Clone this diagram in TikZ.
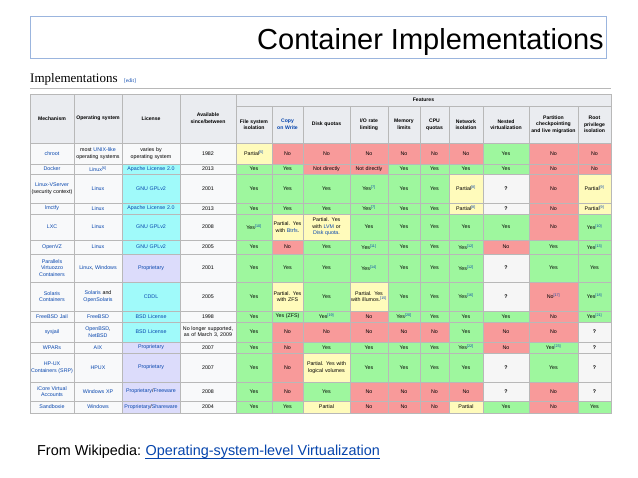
\documentclass[tikz,border=0pt]{standalone}
\usepackage{fontspec}
\setmainfont{Liberation Sans}
\newfontfamily\serifw{Liberation Serif}
\hyphenpenalty=10000 \exhyphenpenalty=10000
\definecolor{lk}{HTML}{0645AD}
\definecolor{Y}{HTML}{9EF79E}
\definecolor{N}{HTML}{F89A9A}
\definecolor{P}{HTML}{FFFBBB}
\definecolor{Q}{HTML}{F6F6F6}
\definecolor{L}{HTML}{F8F9FA}
\definecolor{F}{HTML}{A0FAFA}
\definecolor{R}{HTML}{DCDCFB}
\definecolor{H}{HTML}{EAECF0}
\definecolor{bord}{HTML}{B8B8B8}
\newcommand\lk[1]{{\color{lk}#1}}
\newcommand\rf[1]{{\color{lk}\textsuperscript{[#1]}}}
\def\colx#1{\ifcase#1 30\or 74\or 122\or 180\or 236\or 272\or 303\or 350\or 388\or 420\or 449\or 483\or 529\or 578\or 611\fi}
\newcommand\cel[6]{%
 \pgfmathsetmacro\xa{\colx{#1}}\pgfmathsetmacro\xb{\colx{#2}}\pgfmathsetmacro\ww{\xb-\xa-2}%
 \filldraw[fill=#5,draw=bord,line width=0.4pt] (\xa,#3) rectangle (\xb,#4);
 \node[txt,text width=\ww pt] at ({(\xa+\xb)/2},{(#3+#4)/2}) {#6};}
\newcommand\rw[2]{\def\ya{#1}\def\yb{#2}}
\newcommand\cc[3]{\pgfmathtruncatemacro\cn{#1+1}\cel{#1}{\cn}{\ya}{\yb}{#2}{#3}}
\tikzset{txt/.style={align=center,inner sep=0pt,font=\fontsize{5.3}{6.4}\selectfont}}
\begin{document}
\begin{tikzpicture}[x=1pt,y=-1pt]
\useasboundingbox (0,0) rectangle (638,478);
\fill[white] (0,0) rectangle (638,478);
\draw[color=lk!40,line width=0.5pt] (30,16) rectangle (606,58);
\node[anchor=base east,inner sep=0pt,font=\fontsize{29}{30}\selectfont] (title) at (604,50) {Container Implementations};
\node[anchor=base west,inner sep=0pt,font=\serifw\fontsize{13}{14}\selectfont] (impl) at (30,83) {Implementations\ \ {\fontsize{5.5}{6}\selectfont\color{lk}[edit]}};
\draw[bord,line width=0.4pt] (30,88) -- (611,88);
% header
\rw{94}{143}
\tikzset{txt/.style={align=center,inner sep=0pt,font=\fontsize{5.1}{6.6}\selectfont\bfseries}}
\cc{0}{H}{Mechanism}\cc{1}{H}{Operating system}\cc{2}{H}{License}\cc{3}{H}{Available since/between}
\cel{4}{14}{94}{106}{H}{Features}
\rw{106}{143}
\cc{4}{H}{File system isolation}\cc{5}{H}{\lk{Copy on Write}}\cc{6}{H}{Disk quotas}\cc{7}{H}{I/O rate limiting}
\cc{8}{H}{Memory limits}\cc{9}{H}{CPU quotas}\cc{10}{H}{Network isolation}\cc{11}{H}{Nested virtualization}
\cc{12}{H}{Partition checkpointing and live migration}\cc{13}{H}{Root privilege isolation}
\tikzset{txt/.style={align=center,inner sep=0pt,font=\fontsize{5.3}{6.6}\selectfont}}
% rows
\rw{143}{164}
\cc{0}{L}{\lk{chroot}}\cc{1}{L}{most \lk{UNIX-like} operating systems}\cc{2}{L}{varies by operating system}\cc{3}{L}{1982}
\cc{4}{P}{Partial\rf{5}}\cc{5}{N}{No}\cc{6}{N}{No}\cc{7}{N}{No}\cc{8}{N}{No}\cc{9}{N}{No}\cc{10}{N}{No}\cc{11}{Y}{Yes}\cc{12}{N}{No}\cc{13}{N}{No}
\rw{164}{174}
\cc{0}{L}{\lk{Docker}}\cc{1}{L}{\lk{Linux}\rf{6}}\cc{2}{F}{\lk{Apache License 2.0}}\cc{3}{L}{2013}
\cc{4}{Y}{Yes}\cc{5}{Y}{Yes}\cc{6}{N}{Not directly}\cc{7}{N}{Not directly}\cc{8}{Y}{Yes}\cc{9}{Y}{Yes}\cc{10}{Y}{Yes}\cc{11}{Y}{Yes}\cc{12}{N}{No}\cc{13}{N}{No}
\rw{174}{203}
\cc{0}{L}{\lk{Linux-VServer} (security context)}\cc{1}{L}{\lk{Linux}}\cc{2}{F}{\lk{GNU GPLv2}}\cc{3}{L}{2001}
\cc{4}{Y}{Yes}\cc{5}{Y}{Yes}\cc{6}{Y}{Yes}\cc{7}{Y}{Yes\rf{7}}\cc{8}{Y}{Yes}\cc{9}{Y}{Yes}\cc{10}{P}{Partial\rf{8}}\cc{11}{Q}{\textbf{?}}\cc{12}{N}{No}\cc{13}{P}{Partial\rf{9}}
\rw{203}{214}
\cc{0}{L}{\lk{lmctfy}}\cc{1}{L}{\lk{Linux}}\cc{2}{F}{\lk{Apache License 2.0}}\cc{3}{L}{2013}
\cc{4}{Y}{Yes}\cc{5}{Y}{Yes}\cc{6}{Y}{Yes}\cc{7}{Y}{Yes\rf{7}}\cc{8}{Y}{Yes}\cc{9}{Y}{Yes}\cc{10}{P}{Partial\rf{8}}\cc{11}{Q}{\textbf{?}}\cc{12}{N}{No}\cc{13}{P}{Partial\rf{9}}
\rw{214}{240}
\cc{0}{L}{\lk{LXC}}\cc{1}{L}{\lk{Linux}}\cc{2}{F}{\lk{GNU GPLv2}}\cc{3}{L}{2008}
\cc{4}{Y}{Yes\rf{10}}\cc{5}{P}{Partial. Yes with \lk{Btrfs}.}\cc{6}{P}{Partial. Yes with \lk{LVM} or \lk{Disk quota}.}\cc{7}{Y}{Yes}\cc{8}{Y}{Yes}\cc{9}{Y}{Yes}\cc{10}{Y}{Yes}\cc{11}{Y}{Yes}\cc{12}{N}{No}\cc{13}{Y}{Yes\rf{10}}
\rw{240}{254}
\cc{0}{L}{\lk{OpenVZ}}\cc{1}{L}{\lk{Linux}}\cc{2}{F}{\lk{GNU GPLv2}}\cc{3}{L}{2005}
\cc{4}{Y}{Yes}\cc{5}{N}{No}\cc{6}{Y}{Yes}\cc{7}{Y}{Yes\rf{11}}\cc{8}{Y}{Yes}\cc{9}{Y}{Yes}\cc{10}{Y}{Yes\rf{12}}\cc{11}{N}{No}\cc{12}{Y}{Yes}\cc{13}{Y}{Yes\rf{13}}
\rw{254}{282}
\cc{0}{L}{\lk{Parallels Virtuozzo Containers}}\cc{1}{L}{\lk{Linux}, \lk{Windows}}\cc{2}{R}{\lk{Proprietary}}\cc{3}{L}{2001}
\cc{4}{Y}{Yes}\cc{5}{Y}{Yes}\cc{6}{Y}{Yes}\cc{7}{Y}{Yes\rf{14}}\cc{8}{Y}{Yes}\cc{9}{Y}{Yes}\cc{10}{Y}{Yes\rf{12}}\cc{11}{Q}{\textbf{?}}\cc{12}{Y}{Yes}\cc{13}{Y}{Yes}
\rw{282}{311}
\cc{0}{L}{\lk{Solaris Containers}}\cc{1}{L}{\lk{Solaris} and \lk{OpenSolaris}}\cc{2}{F}{\lk{CDDL}}\cc{3}{L}{2005}
\cc{4}{Y}{Yes}\cc{5}{P}{Partial. Yes with ZFS}\cc{6}{Y}{Yes}\cc{7}{P}{Partial. Yes with illumos.\rf{15}}\cc{8}{Y}{Yes}\cc{9}{Y}{Yes}\cc{10}{Y}{Yes\rf{16}}\cc{11}{Q}{\textbf{?}}\cc{12}{N}{No\rf{17}}\cc{13}{Y}{Yes\rf{18}}
\rw{311}{322}
\cc{0}{L}{\lk{FreeBSD Jail}}\cc{1}{L}{\lk{FreeBSD}}\cc{2}{F}{\lk{BSD License}}\cc{3}{L}{1998}
\cc{4}{Y}{Yes}\cc{5}{Y}{Yes (ZFS)}\cc{6}{Y}{Yes\rf{19}}\cc{7}{N}{No}\cc{8}{Y}{Yes\rf{20}}\cc{9}{Y}{Yes}\cc{10}{Y}{Yes}\cc{11}{Y}{Yes}\cc{12}{N}{No}\cc{13}{Y}{Yes\rf{21}}
\rw{322}{342}
\cc{0}{L}{\lk{sysjail}}\cc{1}{L}{\lk{OpenBSD}, \lk{NetBSD}}\cc{2}{F}{\lk{BSD License}}\cc{3}{L}{No longer supported, as of March 3, 2009}
\cc{4}{Y}{Yes}\cc{5}{N}{No}\cc{6}{N}{No}\cc{7}{N}{No}\cc{8}{N}{No}\cc{9}{N}{No}\cc{10}{Y}{Yes}\cc{11}{N}{No}\cc{12}{N}{No}\cc{13}{Q}{\textbf{?}}
\rw{342}{353}
\cc{0}{L}{\lk{WPARs}}\cc{1}{L}{\lk{AIX}}\cc{2}{R}{\lk{Proprietary}}\cc{3}{L}{2007}
\cc{4}{Y}{Yes}\cc{5}{N}{No}\cc{6}{Y}{Yes}\cc{7}{Y}{Yes}\cc{8}{Y}{Yes}\cc{9}{Y}{Yes}\cc{10}{Y}{Yes\rf{22}}\cc{11}{N}{No}\cc{12}{Y}{Yes\rf{23}}\cc{13}{Q}{\textbf{?}}
\rw{353}{382}
\cc{0}{L}{\lk{HP-UX Containers (SRP)}}\cc{1}{L}{\lk{HPUX}}\cc{2}{R}{\lk{Proprietary}}\cc{3}{L}{2007}
\cc{4}{Y}{Yes}\cc{5}{N}{No}\cc{6}{P}{Partial. Yes with logical volumes}\cc{7}{Y}{Yes}\cc{8}{Y}{Yes}\cc{9}{Y}{Yes}\cc{10}{Y}{Yes}\cc{11}{Q}{\textbf{?}}\cc{12}{Y}{Yes}\cc{13}{Q}{\textbf{?}}
\rw{382}{401}
\cc{0}{L}{\lk{iCore Virtual Accounts}}\cc{1}{L}{\lk{Windows XP}}\cc{2}{R}{\lk{Proprietary}/\lk{Freeware}}\cc{3}{L}{2008}
\cc{4}{Y}{Yes}\cc{5}{N}{No}\cc{6}{Y}{Yes}\cc{7}{N}{No}\cc{8}{N}{No}\cc{9}{N}{No}\cc{10}{N}{No}\cc{11}{Q}{\textbf{?}}\cc{12}{N}{No}\cc{13}{Q}{\textbf{?}}
\rw{401}{413}
\cc{0}{L}{\lk{Sandboxie}}\cc{1}{L}{\lk{Windows}}\cc{2}{R}{\lk{Proprietary}/\lk{Shareware}}\cc{3}{L}{2004}
\cc{4}{Y}{Yes}\cc{5}{Y}{Yes}\cc{6}{P}{Partial}\cc{7}{N}{No}\cc{8}{N}{No}\cc{9}{N}{No}\cc{10}{P}{Partial}\cc{11}{Y}{Yes}\cc{12}{N}{No}\cc{13}{Y}{Yes}
% footer
\node[anchor=base west,inner sep=0pt,font=\fontsize{14.4}{16}\selectfont] (foot) at (37,456) {From Wikipedia:};
\node[anchor=base west,inner sep=0pt,font=\fontsize{14.4}{16}\selectfont,text=lk] (link) at ([xshift=4pt]foot.base east) {Operating-system-level Virtualization};
\draw[lk,line width=0.7pt] ([yshift=-2pt]link.base west) -- ([yshift=-2pt]link.base east);
\end{tikzpicture}
\end{document}
